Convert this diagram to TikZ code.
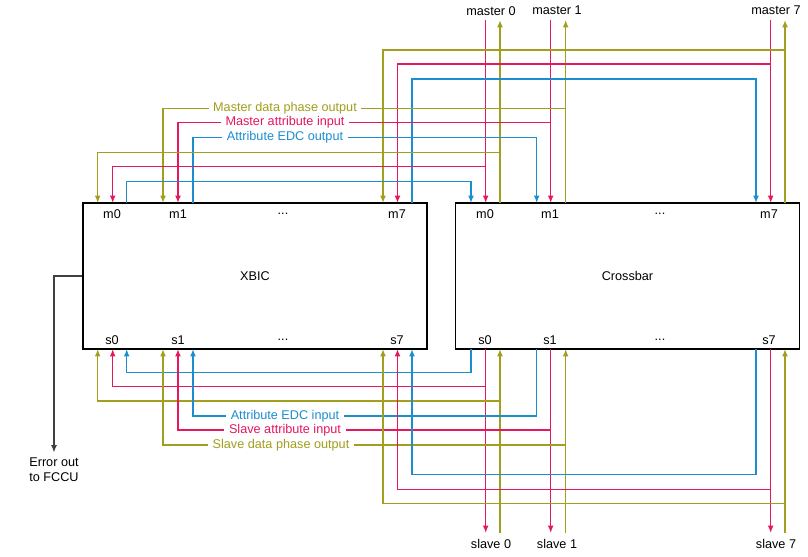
\documentclass[tikz,border=0pt]{standalone}
\usepackage{fontspec}
\setmainfont{Liberation Sans}
\usepackage{tikz}
\usetikzlibrary{arrows.meta}
\usepackage{xcolor}
\definecolor{datacol}{HTML}{A29E1E}
\definecolor{attrcol}{HTML}{E5175F}
\definecolor{edccol}{HTML}{1C8ED0}
\definecolor{errcol}{HTML}{404040}

\begin{document}
\begin{tikzpicture}[x=0.75pt, y=-0.75pt, font=\fontsize{9.5}{11.7}\selectfont,
        >={Latex[length=5.5pt,width=4.4pt]},
        block/.style={draw, line width=1.4pt, minimum width=258pt, minimum height=109.5pt},
        data/.style={datacol, line width=1.1pt},
        attr/.style={attrcol, line width=1.1pt},
        edc/.style={edccol, line width=1.1pt},
        sig/.style={fill=white, inner xsep=3.4pt, inner ysep=1pt}]

        \useasboundingbox (0,0) rectangle (808,557);

        % Blocks
        \node[block] (xbic) at (255, 276) {XBIC};
        \node[block] (xbar) at (627.5, 276) {Crossbar};

        % Port labels
        \node (xm0) at (112, 214) {m0};
        \node (xm1) at (178, 214) {m1};
        \node (xmd) at (283, 214) {...};
        \node (xm7) at (397, 214) {m7};
        \node (xs0) at (112, 340) {s0};
        \node (xs1) at (178, 340) {s1};
        \node (xsd) at (283, 340) {...};
        \node (xs7) at (397, 340) {s7};
        \node (cm0) at (485, 214) {m0};
        \node (cm1) at (550, 214) {m1};
        \node (cmd) at (660, 214) {...};
        \node (cm7) at (769, 214) {m7};
        \node (cs0) at (485, 340) {s0};
        \node (cs1) at (550, 340) {s1};
        \node (csd) at (660, 340) {...};
        \node (cs7) at (769, 340) {s7};

        % Master and slave ports
        \node (mst0) at (491, 10.7) {master 0};
        \node (mst1) at (557, 10.7) {master 1};
        \node (mst7) at (776, 10.7) {master 7};
        \node (slv0) at (491, 544) {slave 0};
        \node (slv1) at (557, 544) {slave 1};
        \node (slv7) at (776, 544) {slave 7};

        % Pins on the XBIC
        \coordinate (xm0o) at (97.7, 203);  \coordinate (xm0r) at (112.7, 203); \coordinate (xm0b) at (126.7, 203);
        \coordinate (xm1o) at (163, 203);   \coordinate (xm1r) at (178, 203);   \coordinate (xm1b) at (193, 203);
        \coordinate (xm7o) at (383, 203);   \coordinate (xm7r) at (397.5, 203); \coordinate (xm7b) at (412, 203);
        \coordinate (xs0o) at (97.7, 349);  \coordinate (xs0r) at (112.7, 349); \coordinate (xs0b) at (126.7, 349);
        \coordinate (xs1o) at (163, 349);   \coordinate (xs1r) at (178, 349);   \coordinate (xs1b) at (193, 349);
        \coordinate (xs7o) at (383, 349);   \coordinate (xs7r) at (397.5, 349); \coordinate (xs7b) at (412, 349);

        % Pins on the crossbar
        \coordinate (cm0b) at (471, 203);   \coordinate (cm0r) at (485.7, 203); \coordinate (cm0o) at (500, 203);
        \coordinate (cm1b) at (536.7, 203); \coordinate (cm1r) at (550.7, 203); \coordinate (cm1o) at (565.7, 203);
        \coordinate (cm7b) at (756, 203);   \coordinate (cm7r) at (770.7, 203); \coordinate (cm7o) at (785, 203);
        \coordinate (cs0b) at (471, 349);   \coordinate (cs0r) at (485.7, 349); \coordinate (cs0o) at (500, 349);
        \coordinate (cs1b) at (536.7, 349); \coordinate (cs1r) at (550.7, 349); \coordinate (cs1o) at (565.7, 349);
        \coordinate (cs7b) at (756, 349);   \coordinate (cs7r) at (770.7, 349); \coordinate (cs7o) at (785, 349);

        % Line ends at the masters and slaves
        \coordinate (mst0r) at (485.7, 20); \coordinate (mst0o) at (500, 20);
        \coordinate (mst1r) at (550.7, 20); \coordinate (mst1o) at (565.7, 20);
        \coordinate (mst7r) at (770.7, 20); \coordinate (mst7o) at (785, 20);
        \coordinate (slv0r) at (485.7, 533); \coordinate (slv0o) at (500, 533);
        \coordinate (slv1r) at (550.7, 533); \coordinate (slv1o) at (565.7, 533);
        \coordinate (slv7r) at (770.7, 533); \coordinate (slv7o) at (785, 533);

        % Master side
        \draw[attr, ->] (mst0r) -- (cm0r);
        \draw[data, ->] (cm0o) -- (mst0o);
        \draw[attr, ->] (mst1r) -- (cm1r);
        \draw[data, ->] (cm1o) -- (mst1o);
        \draw[attr, ->] (mst7r) -- (cm7r);
        \draw[data, ->] (cm7o) -- (mst7o);

        \draw[data, ->] (mst7o |- 0,50) -| (xm7o);
        \draw[attr, ->] (mst7r |- 0,64) -| (xm7r);
        \draw[edc, ->] (xm7b) |- (cm7b |- 0,79) -- (cm7b);
        \draw[data, ->] (mst1o |- 0,108.7) -| (xm1o);
        \draw[attr, ->] (mst1r |- 0,122.7) -| (xm1r);
        \draw[edc, ->] (xm1b) |- (cm1b |- 0,137.7) -- (cm1b);
        \draw[data, ->] (mst0o |- 0,152.7) -| (xm0o);
        \draw[attr, ->] (mst0r |- 0,166.7) -| (xm0r);
        \draw[edc, ->] (xm0b) |- (cm0b |- 0,181.7) -- (cm0b);

        % Slave side
        \draw[attr, ->] (cs0r) -- (slv0r);
        \draw[data, ->] (slv0o) -- (cs0o);
        \draw[attr, ->] (cs1r) -- (slv1r);
        \draw[data, ->] (slv1o) -- (cs1o);
        \draw[attr, ->] (cs7r) -- (slv7r);
        \draw[data, ->] (slv7o) -- (cs7o);

        \draw[edc, ->] (cs0b) |- (xs0b |- 0,372.3) -- (xs0b);
        \draw[attr, ->] (slv0r |- 0,386.7) -| (xs0r);
        \draw[data, ->] (slv0o |- 0,401) -| (xs0o);
        \draw[edc, ->] (cs1b) |- (xs1b |- 0,416) -- (xs1b);
        \draw[attr, ->] (slv1r |- 0,430) -| (xs1r);
        \draw[data, ->] (slv1o |- 0,445) -| (xs1o);
        \draw[edc, ->] (cs7b) |- (xs7b |- 0,474.7) -- (xs7b);
        \draw[attr, ->] (slv7r |- 0,489.3) -| (xs7r);
        \draw[data, ->] (slv7o |- 0,503.3) -| (xs7o);

        % Signal names
        \node[sig, text=datacol] (mdata) at (285, 108.7) {Master data phase output};
        \node[sig, text=attrcol] (mattr) at (285, 122.7) {Master attribute input};
        \node[sig, text=edccol] (medc) at (285, 137.7) {Attribute EDC output};
        \node[sig, text=edccol] (sedc) at (285, 416) {Attribute EDC input};
        \node[sig, text=attrcol] (sattr) at (285, 430) {Slave attribute input};
        \node[sig, text=datacol] (sdata) at (281, 445) {Slave data phase output};

        % Error output
        \node[align=left] (err) at (54, 469.5) {Error out\\to FCCU};
        \draw[errcol, line width=1pt, ->] (xbic.west) -| (err.north);
    \end{tikzpicture}
\end{document}
